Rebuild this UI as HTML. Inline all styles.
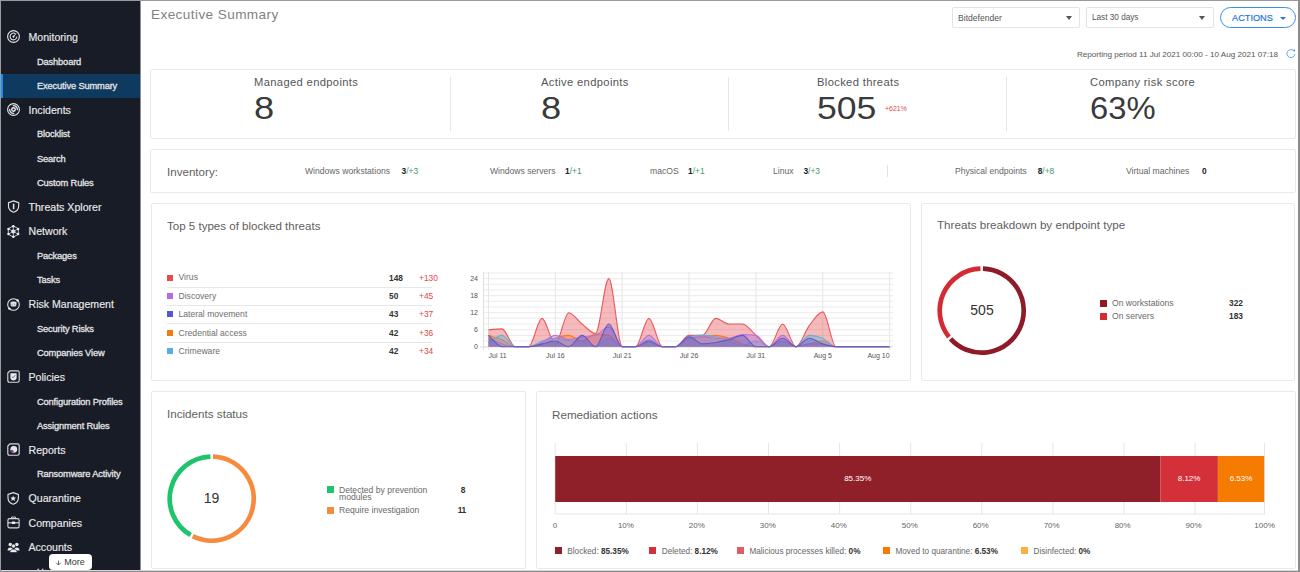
<!DOCTYPE html>
<html><head><meta charset="utf-8"><style>
*{box-sizing:border-box;margin:0;padding:0}
html,body{width:1300px;height:572px;overflow:hidden;background:#fff;font-family:"Liberation Sans", sans-serif}
#frame{position:absolute;left:0;top:0;width:1300px;height:572px;border:1px solid #9a9a9a;border-right:2px solid #8c8c8c;border-bottom:1px solid #8c8c8c;box-shadow:inset 0 -1px 0 #d6d6d6;z-index:50;pointer-events:none}
#sb{position:absolute;left:1px;top:1px;width:139px;height:570px;background:#181c27;overflow:hidden;box-shadow:1px 0 0 #8e9096}
#sb .act{position:absolute;left:0;top:73px;width:139px;height:24px;background:#0f3a5f;border-left:2.5px solid #1a8cf0}
#sb .pi{position:absolute;left:27.5px;font-size:10.6px;line-height:14px;color:#e9e9ea;white-space:nowrap;-webkit-text-stroke:0.15px #e9e9ea}
#sb .si{position:absolute;left:36px;font-size:9.3px;letter-spacing:-0.15px;line-height:12px;font-weight:400;color:#e4e4e6;white-space:nowrap;-webkit-text-stroke:0.3px #e4e4e6}
#sb .ic{position:absolute;left:6px;overflow:visible}
#sb .more{position:absolute;left:48.3px;top:552.5px;width:43px;height:16px;background:#fff;border-radius:4px;font-size:9px;line-height:16px;color:#3a3a3a}
.t{position:absolute;white-space:nowrap}
.card{position:absolute;background:#fff;border:1px solid #e9e9e9;border-radius:2px}
</style></head><body>
<div id="frame"></div>
<div id="sb">
<div class="act"></div>
<div class="pi" style="top:29.0px">Monitoring</div>
<svg class="ic" style="top:29.40px" width="13" height="13" viewBox="0 0 13 13"><circle cx="6.5" cy="6.5" r="5.9" fill="none" stroke="#e2e2e2" stroke-width="1.15"/><path d="M8.6 3.8 A3.4 3.4 0 1 0 9.9 6.6" fill="none" stroke="#e2e2e2" stroke-width="1.05"/><circle cx="6.5" cy="6.6" r="1.05" fill="#eee"/><path d="M6.5 6.6 L9.1 3.6" stroke="#e2e2e2" stroke-width="0.9"/></svg>
<div class="si" style="top:54.5px">Dashboard</div>
<div class="si" style="top:78.8px">Executive Summary</div>
<div class="pi" style="top:101.9px">Incidents</div>
<svg class="ic" style="top:102.26px" width="13" height="13" viewBox="0 0 13 13"><circle cx="6.5" cy="6.5" r="5.9" fill="none" stroke="#e2e2e2" stroke-width="1.15"/><path d="M5.8 2.7 A3.85 3.85 0 0 1 10.3 7.2 M7.2 10.3 A3.85 3.85 0 0 1 2.7 5.8" fill="none" stroke="#e2e2e2" stroke-width="1.3"/><circle cx="6.5" cy="6.5" r="1.75" fill="none" stroke="#f0f0f0" stroke-width="1.4"/></svg>
<div class="si" style="top:127.3px">Blocklist</div>
<div class="si" style="top:151.6px">Search</div>
<div class="si" style="top:175.9px">Custom Rules</div>
<div class="pi" style="top:199.0px">Threats Xplorer</div>
<svg class="ic" style="top:199.40px" width="13" height="13" viewBox="0 0 13 13"><path d="M6.6 0.9 L11.7 2.7 V6.3 C11.7 9.3 9.6 11.3 6.6 12.3 C3.6 11.3 1.5 9.3 1.5 6.3 V2.7 Z" fill="none" stroke="#e2e2e2" stroke-width="1.15"/><path d="M6.6 3.7 V9.3" stroke="#e8e8e8" stroke-width="1.5"/></svg>
<div class="pi" style="top:223.3px">Network</div>
<svg class="ic" style="top:223.69px" width="13" height="13" viewBox="0 0 13 13"><path d="M6.3 0.9 L11.3 3.7 V9.3 L6.3 12.1 L1.3 9.3 V3.7 Z" fill="none" stroke="#cfd2d8" stroke-width="0.9"/><path d="M6.3 1 V12 M1.3 3.7 L11.3 9.3 M11.3 3.7 L1.3 9.3" stroke="#cfd2d8" stroke-width="0.8"/><circle cx="6.3" cy="6.5" r="2.1" fill="#dfe2e8"/><circle cx="6.3" cy="1.3" r="1.25" fill="#eee"/><circle cx="6.3" cy="11.7" r="1.25" fill="#eee"/><circle cx="1.5" cy="3.9" r="1.25" fill="#eee"/><circle cx="11.1" cy="3.9" r="1.25" fill="#eee"/><circle cx="1.5" cy="9.1" r="1.25" fill="#eee"/><circle cx="11.1" cy="9.1" r="1.25" fill="#eee"/></svg>
<div class="si" style="top:248.8px">Packages</div>
<div class="si" style="top:273.1px">Tasks</div>
<div class="pi" style="top:296.1px">Risk Management</div>
<svg class="ic" style="top:296.55px" width="13" height="13" viewBox="0 0 13 13"><circle cx="6.5" cy="6.5" r="5.8" fill="none" stroke="#e2e2e2" stroke-width="1.1"/><circle cx="10.6" cy="2.4" r="1.2" fill="#f2f2f2"/><circle cx="2.4" cy="10.6" r="1.2" fill="#f2f2f2"/><path d="M3.4 4.4 C4.5 3.2 8.5 3.2 9.6 4.4 L9.3 7.4 C8.9 9 4.1 9 3.7 7.4 Z" fill="#e6e6ea"/><path d="M5.2 5.6 V7.3 M7.8 5.6 V7.3" stroke="#7f7fb0" stroke-width="0.9"/></svg>
<div class="si" style="top:321.6px">Security Risks</div>
<div class="si" style="top:345.9px">Companies View</div>
<div class="pi" style="top:369.0px">Policies</div>
<svg class="ic" style="top:369.40px" width="13" height="13" viewBox="0 0 13 13"><path d="M3 0.8 H10.6 Q12.2 0.8 12.2 2.4 V10.6 Q12.2 12.2 10.6 12.2 H2.4 Q0.8 12.2 0.8 10.6 V3 Z" fill="none" stroke="#d8d8d8" stroke-width="1.15"/><path d="M3.4 3.2 H9.6 V8 C9.6 9.3 7.8 10.3 6.5 10.6 C5.2 10.3 3.4 9.3 3.4 8 Z" fill="#e8ecf2"/><path d="M4.9 6.7 L6.1 7.8 L8.3 5.2" fill="none" stroke="#6b6356" stroke-width="0.9"/></svg>
<div class="si" style="top:394.5px">Configuration Profiles</div>
<div class="si" style="top:418.8px">Assignment Rules</div>
<div class="pi" style="top:441.9px">Reports</div>
<svg class="ic" style="top:442.26px" width="13" height="13" viewBox="0 0 13 13"><path d="M3 0.8 H10.6 Q12.2 0.8 12.2 2.4 V10.6 Q12.2 12.2 10.6 12.2 H2.4 Q0.8 12.2 0.8 10.6 V3 Z" fill="none" stroke="#d8d8d8" stroke-width="1.15"/><circle cx="6.8" cy="6.3" r="3.4" fill="#e6e6ea"/><circle cx="5" cy="8.3" r="1.5" fill="#5a4f8a"/><path d="M5.6 7 V9.6" stroke="#b04fb0" stroke-width="0.8"/></svg>
<div class="si" style="top:467.3px">Ransomware Activity</div>
<div class="pi" style="top:490.4px">Quarantine</div>
<svg class="ic" style="top:490.83px" width="13" height="13" viewBox="0 0 13 13"><path d="M6.2 0.6 L11.4 2.5 V6.1 C11.4 9.2 9.2 11.3 6.2 12.3 C3.2 11.3 1 9.2 1 6.1 V2.5 Z" fill="none" stroke="#e2e2e2" stroke-width="1.15"/><path d="M6.2 3.5 L7 5.5 L9.1 5.6 L7.5 6.9 L8.1 9 L6.2 7.8 L4.3 9 L4.9 6.9 L3.3 5.6 L5.4 5.5 Z" fill="#eaeaea"/></svg>
<div class="pi" style="top:514.7px">Companies</div>
<svg class="ic" style="top:515.12px" width="13" height="13" viewBox="0 0 13 13"><rect x="0.9" y="2.6" width="11.2" height="9.3" rx="1.6" fill="none" stroke="#d9d9d9" stroke-width="1.15"/><path d="M4.5 2.6 V1.1 H8.5 V2.6" fill="none" stroke="#d0d0d8" stroke-width="1"/><path d="M0.9 6.8 H12.1" stroke="#e0e0e0" stroke-width="1.1"/><rect x="4.8" y="5.6" width="3.4" height="2.3" rx="0.4" fill="#f0f0f0"/></svg>
<div class="pi" style="top:539.0px">Accounts</div>
<svg class="ic" style="top:539.41px" width="13" height="13" viewBox="0 0 13 13"><g transform="translate(0,0.9)"><circle cx="3.3" cy="3.6" r="1.8" fill="#e8e8ea"/><circle cx="9.8" cy="3.6" r="1.8" fill="#e8e8ea"/><path d="M0.5 9.5 C0.5 5.6 6.1 5.6 6.1 9.5 Z M7 9.5 C7 5.6 12.6 5.6 12.6 9.5 Z" fill="#e8e8ea"/><circle cx="6.5" cy="5.2" r="2" fill="#ececee" stroke="#181c27" stroke-width="0.6"/><path d="M2.8 11.6 C2.8 7.2 10.2 7.2 10.2 11.6 Z" fill="#ececee" stroke="#181c27" stroke-width="0.6"/></g></svg>
<div class="si" style="top:564.5px">User Activity</div>
<div class="more"><svg style="position:absolute;left:6px;top:4.5px" width="7" height="8" viewBox="0 0 7 8"><path d="M3.5 2.6 V7 M1.2 4.7 L3.5 7 L5.8 4.7" fill="none" stroke="#555" stroke-width="0.9"/></svg><span style="position:absolute;left:15px;top:0">More</span></div>
</div>
<div class="t" style="left:151px;top:6.8px;font-size:13.6px;line-height:16.3px;color:#828282;font-weight:400;letter-spacing:0.4px">Executive Summary</div>
<div class="card" style="left:952px;top:7px;width:128px;height:21px;border-color:#e3e3e3"></div>
<div class="t" style="left:958px;top:13.1px;font-size:8.6px;line-height:10.3px;color:#555;font-weight:400;">Bitdefender</div>
<div class="t" style="left:1066px;top:16px;width:0;height:0;border-left:3.5px solid transparent;border-right:3.5px solid transparent;border-top:4px solid #555"></div>
<div class="card" style="left:1086px;top:7px;width:128px;height:21px;border-color:#e3e3e3"></div>
<div class="t" style="left:1092px;top:13.4px;font-size:8.2px;line-height:9.8px;color:#555;font-weight:400;">Last 30 days</div>
<div class="t" style="left:1199px;top:16px;width:0;height:0;border-left:3.5px solid transparent;border-right:3.5px solid transparent;border-top:4px solid #555"></div>
<div class="t" style="left:1220px;top:7px;width:76px;height:21px;border:1px solid #3a8ee6;border-radius:11px"></div>
<div class="t" style="left:1232px;top:12.8px;font-size:9.2px;line-height:11.0px;color:#2a78d8;font-weight:400;-webkit-text-stroke:0.2px #2a78d8">ACTIONS</div>
<div class="t" style="left:1280px;top:16.5px;width:0;height:0;border-left:3.5px solid transparent;border-right:3.5px solid transparent;border-top:3.5px solid #2a78d8"></div>
<div class="t" style="left:1077px;top:50.1px;font-size:8.1px;line-height:9.7px;color:#555;font-weight:400;">Reporting period 11 Jul 2021 00:00 - 10 Aug 2021 07:18</div>
<svg class="t" style="left:1285px;top:48px" width="12" height="12" viewBox="0 0 12 12"><path d="M8.6 2.6 A4 4 0 1 0 9.9 6.2" fill="none" stroke="#5b9cec" stroke-width="0.9"/><circle cx="9.2" cy="2.4" r="0.9" fill="#3f86e6"/></svg>
<div class="card" style="left:150px;top:69px;width:1146px;height:70px"></div>
<div class="t" style="left:450px;top:77px;width:1px;height:54px;background:#e6e6e6"></div>
<div class="t" style="left:728px;top:77px;width:1px;height:54px;background:#e6e6e6"></div>
<div class="t" style="left:1006px;top:77px;width:1px;height:54px;background:#e6e6e6"></div>
<div class="t" style="left:254px;top:76.1px;font-size:11.2px;line-height:13.4px;color:#555;font-weight:400;letter-spacing:0.35px">Managed endpoints</div>
<div class="t" style="left:254px;top:90.1px;font-size:31.5px;line-height:37.8px;color:#3a3a3a;font-weight:400;transform:scaleX(1.15);transform-origin:0 0">8</div>
<div class="t" style="left:541px;top:76.1px;font-size:11.2px;line-height:13.4px;color:#555;font-weight:400;letter-spacing:0.35px">Active endpoints</div>
<div class="t" style="left:541px;top:90.1px;font-size:31.5px;line-height:37.8px;color:#3a3a3a;font-weight:400;transform:scaleX(1.15);transform-origin:0 0">8</div>
<div class="t" style="left:817px;top:76.1px;font-size:11.2px;line-height:13.4px;color:#555;font-weight:400;letter-spacing:0.35px">Blocked threats</div>
<div class="t" style="left:817px;top:90.1px;font-size:31.5px;line-height:37.8px;color:#3a3a3a;font-weight:400;transform:scaleX(1.13);transform-origin:0 0">505</div>
<div class="t" style="left:1090px;top:76.1px;font-size:11.2px;line-height:13.4px;color:#555;font-weight:400;letter-spacing:0.35px">Company risk score</div>
<div class="t" style="left:1090px;top:90.1px;font-size:31.5px;line-height:37.8px;color:#3a3a3a;font-weight:400;transform:scaleX(1.04);transform-origin:0 0">63%</div>
<div class="t" style="left:885px;top:104.6px;font-size:7px;line-height:8.4px;color:#e04b4b;font-weight:400;">+621%</div>
<div class="card" style="left:150px;top:149px;width:1146px;height:44px"></div>
<div class="t" style="left:167px;top:164.8px;font-size:11.6px;line-height:13.9px;color:#606060;font-weight:400;">Inventory:</div>
<div class="t" style="left:305px;top:166px;font-size:8.6px;line-height:11px;color:#666">Windows workstations</div>
<div class="t" style="left:401.5px;top:166px;font-size:8.4px;line-height:11px;color:#222;font-weight:700">3<span style="color:#3d9a6a;font-weight:400">/+3</span></div>
<div class="t" style="left:490px;top:166px;font-size:8.6px;line-height:11px;color:#666">Windows servers</div>
<div class="t" style="left:565px;top:166px;font-size:8.4px;line-height:11px;color:#222;font-weight:700">1<span style="color:#3d9a6a;font-weight:400">/+1</span></div>
<div class="t" style="left:650px;top:166px;font-size:8.6px;line-height:11px;color:#666">macOS</div>
<div class="t" style="left:688px;top:166px;font-size:8.4px;line-height:11px;color:#222;font-weight:700">1<span style="color:#3d9a6a;font-weight:400">/+1</span></div>
<div class="t" style="left:773px;top:166px;font-size:8.6px;line-height:11px;color:#666">Linux</div>
<div class="t" style="left:803.4px;top:166px;font-size:8.4px;line-height:11px;color:#222;font-weight:700">3<span style="color:#3d9a6a;font-weight:400">/+3</span></div>
<div class="t" style="left:955px;top:166px;font-size:8.6px;line-height:11px;color:#666">Physical endpoints</div>
<div class="t" style="left:1037.7px;top:166px;font-size:8.4px;line-height:11px;color:#222;font-weight:700">8<span style="color:#3d9a6a;font-weight:400">/+8</span></div>
<div class="t" style="left:1126px;top:166px;font-size:8.6px;line-height:11px;color:#666">Virtual machines</div>
<div class="t" style="left:1202px;top:166px;font-size:8.4px;line-height:11px;color:#222;font-weight:700">0<span style="color:#3d9a6a;font-weight:400"></span></div>
<div class="t" style="left:887px;top:165px;width:1px;height:12px;background:#e2e2e2"></div>
<div class="card" style="left:151px;top:203px;width:760px;height:178px"></div>
<div class="t" style="left:167px;top:220.4px;font-size:11.55px;line-height:13.9px;color:#606060;font-weight:400;">Top 5 types of blocked threats</div>
<div class="t" style="left:167px;top:274.6px;width:6px;height:6px;background:#e84a4f"></div>
<div class="t" style="left:178.5px;top:272.4px;font-size:8.6px;line-height:10.3px;color:#6e6e6e;font-weight:400;">Virus</div>
<div class="t" style="left:389px;top:272.6px;font-size:8.4px;line-height:10.1px;color:#333;font-weight:700;">148</div>
<div class="t" style="left:419px;top:272.6px;font-size:8.4px;line-height:10.1px;color:#e5484d;font-weight:400;">+130</div>
<div class="t" style="left:167px;top:286.6px;width:265px;height:1px;background:#e8e8e8"></div>
<div class="t" style="left:167px;top:293.0px;width:6px;height:6px;background:#b56ae0"></div>
<div class="t" style="left:178.5px;top:290.8px;font-size:8.6px;line-height:10.3px;color:#6e6e6e;font-weight:400;">Discovery</div>
<div class="t" style="left:389px;top:290.9px;font-size:8.4px;line-height:10.1px;color:#333;font-weight:700;">50</div>
<div class="t" style="left:419px;top:290.9px;font-size:8.4px;line-height:10.1px;color:#e5484d;font-weight:400;">+45</div>
<div class="t" style="left:167px;top:305.0px;width:265px;height:1px;background:#e8e8e8"></div>
<div class="t" style="left:167px;top:311.3px;width:6px;height:6px;background:#5458c4"></div>
<div class="t" style="left:178.5px;top:309.1px;font-size:8.6px;line-height:10.3px;color:#6e6e6e;font-weight:400;">Lateral movement</div>
<div class="t" style="left:389px;top:309.3px;font-size:8.4px;line-height:10.1px;color:#333;font-weight:700;">43</div>
<div class="t" style="left:419px;top:309.3px;font-size:8.4px;line-height:10.1px;color:#e5484d;font-weight:400;">+37</div>
<div class="t" style="left:167px;top:323.3px;width:265px;height:1px;background:#e8e8e8"></div>
<div class="t" style="left:167px;top:329.7px;width:6px;height:6px;background:#f27b12"></div>
<div class="t" style="left:178.5px;top:327.5px;font-size:8.6px;line-height:10.3px;color:#6e6e6e;font-weight:400;">Credential access</div>
<div class="t" style="left:389px;top:327.6px;font-size:8.4px;line-height:10.1px;color:#333;font-weight:700;">42</div>
<div class="t" style="left:419px;top:327.6px;font-size:8.4px;line-height:10.1px;color:#e5484d;font-weight:400;">+36</div>
<div class="t" style="left:167px;top:341.7px;width:265px;height:1px;background:#e8e8e8"></div>
<div class="t" style="left:167px;top:348.0px;width:6px;height:6px;background:#56b0df"></div>
<div class="t" style="left:178.5px;top:345.8px;font-size:8.6px;line-height:10.3px;color:#6e6e6e;font-weight:400;">Crimeware</div>
<div class="t" style="left:389px;top:346.0px;font-size:8.4px;line-height:10.1px;color:#333;font-weight:700;">42</div>
<div class="t" style="left:419px;top:346.0px;font-size:8.4px;line-height:10.1px;color:#e5484d;font-weight:400;">+34</div>
<svg class="t" style="left:0;top:0" width="1300" height="572">
<line x1="484" y1="346.7" x2="893" y2="346.7" stroke="#ebebeb" stroke-width="1"/>
<line x1="484" y1="341.0" x2="893" y2="341.0" stroke="#ebebeb" stroke-width="1"/>
<line x1="484" y1="335.4" x2="893" y2="335.4" stroke="#ebebeb" stroke-width="1"/>
<line x1="484" y1="329.7" x2="893" y2="329.7" stroke="#ebebeb" stroke-width="1"/>
<line x1="484" y1="324.0" x2="893" y2="324.0" stroke="#ebebeb" stroke-width="1"/>
<line x1="484" y1="318.3" x2="893" y2="318.3" stroke="#ebebeb" stroke-width="1"/>
<line x1="484" y1="312.7" x2="893" y2="312.7" stroke="#ebebeb" stroke-width="1"/>
<line x1="484" y1="307.0" x2="893" y2="307.0" stroke="#ebebeb" stroke-width="1"/>
<line x1="484" y1="301.3" x2="893" y2="301.3" stroke="#ebebeb" stroke-width="1"/>
<line x1="484" y1="295.7" x2="893" y2="295.7" stroke="#ebebeb" stroke-width="1"/>
<line x1="484" y1="290.0" x2="893" y2="290.0" stroke="#ebebeb" stroke-width="1"/>
<line x1="484" y1="284.3" x2="893" y2="284.3" stroke="#ebebeb" stroke-width="1"/>
<line x1="484" y1="278.7" x2="893" y2="278.7" stroke="#ebebeb" stroke-width="1"/>
<line x1="484" y1="273.0" x2="893" y2="273.0" stroke="#ebebeb" stroke-width="1"/>
<line x1="488.5" y1="272" x2="488.5" y2="350" stroke="#e6e6e6" stroke-width="1"/>
<line x1="555.4" y1="272" x2="555.4" y2="350" stroke="#e6e6e6" stroke-width="1"/>
<line x1="622.2" y1="272" x2="622.2" y2="350" stroke="#e6e6e6" stroke-width="1"/>
<line x1="689.0" y1="272" x2="689.0" y2="350" stroke="#e6e6e6" stroke-width="1"/>
<line x1="755.9" y1="272" x2="755.9" y2="350" stroke="#e6e6e6" stroke-width="1"/>
<line x1="822.8" y1="272" x2="822.8" y2="350" stroke="#e6e6e6" stroke-width="1"/>
<line x1="889.6" y1="272" x2="889.6" y2="350" stroke="#e6e6e6" stroke-width="1"/>
<line x1="483.5" y1="272" x2="483.5" y2="350" stroke="#e0e0e0" stroke-width="1"/>
<line x1="480" y1="347" x2="893" y2="347" stroke="#e0e0e0" stroke-width="1"/>
<path d="M488.50,329.69 C492.96,329.41 497.41,328.84 501.87,328.84 C506.33,328.84 510.78,346.70 515.24,346.70 C519.70,346.70 524.15,346.70 528.61,346.70 C533.07,346.70 537.52,318.35 541.98,318.35 C546.44,318.35 550.89,343.87 555.35,343.87 C559.81,343.87 564.26,312.68 568.72,312.68 C573.18,312.68 577.63,320.57 582.09,324.02 C586.55,327.47 591.00,333.38 595.46,333.38 C599.92,333.38 604.37,278.66 608.83,278.66 C613.29,278.66 617.74,346.70 622.20,346.70 C626.66,346.70 631.11,346.70 635.57,346.70 C640.03,346.70 644.48,318.35 648.94,318.35 C653.40,318.35 657.85,346.70 662.31,346.70 C666.77,346.70 671.22,346.70 675.68,346.70 C680.14,346.70 684.59,335.36 689.05,335.36 C693.51,335.36 697.96,335.36 702.42,335.36 C706.88,335.36 711.33,318.35 715.79,318.35 C720.25,318.35 724.70,324.02 729.16,324.02 C733.62,324.02 738.07,324.02 742.53,324.02 C746.99,324.02 751.44,331.58 755.90,335.36 C760.36,339.14 764.81,346.70 769.27,346.70 C773.73,346.70 778.18,324.02 782.64,324.02 C787.10,324.02 791.55,346.70 796.01,346.70 C800.47,346.70 804.92,331.25 809.38,325.44 C813.84,319.63 818.29,311.83 822.75,311.83 C827.21,311.83 831.66,346.70 836.12,346.70 C840.58,346.70 845.03,346.70 849.49,346.70 C853.95,346.70 858.40,346.70 862.86,346.70 C867.32,346.70 871.77,346.70 876.23,346.70 C880.69,346.70 885.14,346.70 889.60,346.70 L889.60,346.7 L488.50,346.7 Z" fill="#e84a4f" fill-opacity="0.38" stroke="none"/>
<path d="M488.50,329.69 C492.96,329.41 497.41,328.84 501.87,328.84 C506.33,328.84 510.78,346.70 515.24,346.70 C519.70,346.70 524.15,346.70 528.61,346.70 C533.07,346.70 537.52,318.35 541.98,318.35 C546.44,318.35 550.89,343.87 555.35,343.87 C559.81,343.87 564.26,312.68 568.72,312.68 C573.18,312.68 577.63,320.57 582.09,324.02 C586.55,327.47 591.00,333.38 595.46,333.38 C599.92,333.38 604.37,278.66 608.83,278.66 C613.29,278.66 617.74,346.70 622.20,346.70 C626.66,346.70 631.11,346.70 635.57,346.70 C640.03,346.70 644.48,318.35 648.94,318.35 C653.40,318.35 657.85,346.70 662.31,346.70 C666.77,346.70 671.22,346.70 675.68,346.70 C680.14,346.70 684.59,335.36 689.05,335.36 C693.51,335.36 697.96,335.36 702.42,335.36 C706.88,335.36 711.33,318.35 715.79,318.35 C720.25,318.35 724.70,324.02 729.16,324.02 C733.62,324.02 738.07,324.02 742.53,324.02 C746.99,324.02 751.44,331.58 755.90,335.36 C760.36,339.14 764.81,346.70 769.27,346.70 C773.73,346.70 778.18,324.02 782.64,324.02 C787.10,324.02 791.55,346.70 796.01,346.70 C800.47,346.70 804.92,331.25 809.38,325.44 C813.84,319.63 818.29,311.83 822.75,311.83 C827.21,311.83 831.66,346.70 836.12,346.70 C840.58,346.70 845.03,346.70 849.49,346.70 C853.95,346.70 858.40,346.70 862.86,346.70 C867.32,346.70 871.77,346.70 876.23,346.70 C880.69,346.70 885.14,346.70 889.60,346.70" fill="none" stroke="#e84a4f" stroke-width="1.1" stroke-opacity="0.9"/>
<path d="M488.50,335.36 C492.96,336.78 497.41,337.72 501.87,339.61 C506.33,341.50 510.78,346.70 515.24,346.70 C519.70,346.70 524.15,346.70 528.61,346.70 C533.07,346.70 537.52,346.23 541.98,345.28 C546.44,344.34 550.89,339.85 555.35,338.19 C559.81,336.54 564.26,335.36 568.72,335.36 C573.18,335.36 577.63,341.03 582.09,341.03 C586.55,341.03 591.00,333.94 595.46,333.94 C599.92,333.94 604.37,334.42 608.83,335.36 C613.29,336.31 617.74,346.70 622.20,346.70 C626.66,346.70 631.11,346.70 635.57,346.70 C640.03,346.70 644.48,342.45 648.94,342.45 C653.40,342.45 657.85,346.70 662.31,346.70 C666.77,346.70 671.22,346.70 675.68,346.70 C680.14,346.70 684.59,339.14 689.05,338.19 C693.51,337.25 697.96,337.25 702.42,336.78 C706.88,336.31 711.33,335.36 715.79,335.36 C720.25,335.36 724.70,336.78 729.16,338.19 C733.62,339.61 738.07,342.45 742.53,343.87 C746.99,345.28 751.44,346.70 755.90,346.70 C760.36,346.70 764.81,346.70 769.27,346.70 C773.73,346.70 778.18,341.03 782.64,341.03 C787.10,341.03 791.55,346.70 796.01,346.70 C800.47,346.70 804.92,344.81 809.38,343.87 C813.84,342.92 818.29,341.03 822.75,341.03 C827.21,341.03 831.66,346.70 836.12,346.70 C840.58,346.70 845.03,346.70 849.49,346.70 C853.95,346.70 858.40,346.70 862.86,346.70 C867.32,346.70 871.77,346.70 876.23,346.70 C880.69,346.70 885.14,346.70 889.60,346.70 L889.60,346.7 L488.50,346.7 Z" fill="#f27b12" fill-opacity="0.38" stroke="none"/>
<path d="M488.50,335.36 C492.96,336.78 497.41,337.72 501.87,339.61 C506.33,341.50 510.78,346.70 515.24,346.70 C519.70,346.70 524.15,346.70 528.61,346.70 C533.07,346.70 537.52,346.23 541.98,345.28 C546.44,344.34 550.89,339.85 555.35,338.19 C559.81,336.54 564.26,335.36 568.72,335.36 C573.18,335.36 577.63,341.03 582.09,341.03 C586.55,341.03 591.00,333.94 595.46,333.94 C599.92,333.94 604.37,334.42 608.83,335.36 C613.29,336.31 617.74,346.70 622.20,346.70 C626.66,346.70 631.11,346.70 635.57,346.70 C640.03,346.70 644.48,342.45 648.94,342.45 C653.40,342.45 657.85,346.70 662.31,346.70 C666.77,346.70 671.22,346.70 675.68,346.70 C680.14,346.70 684.59,339.14 689.05,338.19 C693.51,337.25 697.96,337.25 702.42,336.78 C706.88,336.31 711.33,335.36 715.79,335.36 C720.25,335.36 724.70,336.78 729.16,338.19 C733.62,339.61 738.07,342.45 742.53,343.87 C746.99,345.28 751.44,346.70 755.90,346.70 C760.36,346.70 764.81,346.70 769.27,346.70 C773.73,346.70 778.18,341.03 782.64,341.03 C787.10,341.03 791.55,346.70 796.01,346.70 C800.47,346.70 804.92,344.81 809.38,343.87 C813.84,342.92 818.29,341.03 822.75,341.03 C827.21,341.03 831.66,346.70 836.12,346.70 C840.58,346.70 845.03,346.70 849.49,346.70 C853.95,346.70 858.40,346.70 862.86,346.70 C867.32,346.70 871.77,346.70 876.23,346.70 C880.69,346.70 885.14,346.70 889.60,346.70" fill="none" stroke="#f27b12" stroke-width="1.1" stroke-opacity="0.9"/>
<path d="M488.50,342.45 C492.96,340.08 497.41,335.36 501.87,335.36 C506.33,335.36 510.78,346.70 515.24,346.70 C519.70,346.70 524.15,346.70 528.61,346.70 C533.07,346.70 537.52,342.45 541.98,341.03 C546.44,339.61 550.89,338.19 555.35,338.19 C559.81,338.19 564.26,341.03 568.72,341.03 C573.18,341.03 577.63,341.03 582.09,341.03 C586.55,341.03 591.00,346.70 595.46,346.70 C599.92,346.70 604.37,338.19 608.83,338.19 C613.29,338.19 617.74,346.70 622.20,346.70 C626.66,346.70 631.11,346.70 635.57,346.70 C640.03,346.70 644.48,339.61 648.94,339.61 C653.40,339.61 657.85,346.70 662.31,346.70 C666.77,346.70 671.22,346.70 675.68,346.70 C680.14,346.70 684.59,337.72 689.05,336.78 C693.51,335.83 697.96,335.36 702.42,335.36 C706.88,335.36 711.33,335.83 715.79,336.78 C720.25,337.72 724.70,339.61 729.16,341.03 C733.62,342.45 738.07,345.28 742.53,345.28 C746.99,345.28 751.44,341.03 755.90,341.03 C760.36,341.03 764.81,346.70 769.27,346.70 C773.73,346.70 778.18,341.03 782.64,341.03 C787.10,341.03 791.55,346.70 796.01,346.70 C800.47,346.70 804.92,335.36 809.38,335.36 C813.84,335.36 818.29,336.31 822.75,338.19 C827.21,340.08 831.66,346.70 836.12,346.70 C840.58,346.70 845.03,346.70 849.49,346.70 C853.95,346.70 858.40,346.70 862.86,346.70 C867.32,346.70 871.77,346.70 876.23,346.70 C880.69,346.70 885.14,346.70 889.60,346.70 L889.60,346.7 L488.50,346.7 Z" fill="#56b0df" fill-opacity="0.38" stroke="none"/>
<path d="M488.50,342.45 C492.96,340.08 497.41,335.36 501.87,335.36 C506.33,335.36 510.78,346.70 515.24,346.70 C519.70,346.70 524.15,346.70 528.61,346.70 C533.07,346.70 537.52,342.45 541.98,341.03 C546.44,339.61 550.89,338.19 555.35,338.19 C559.81,338.19 564.26,341.03 568.72,341.03 C573.18,341.03 577.63,341.03 582.09,341.03 C586.55,341.03 591.00,346.70 595.46,346.70 C599.92,346.70 604.37,338.19 608.83,338.19 C613.29,338.19 617.74,346.70 622.20,346.70 C626.66,346.70 631.11,346.70 635.57,346.70 C640.03,346.70 644.48,339.61 648.94,339.61 C653.40,339.61 657.85,346.70 662.31,346.70 C666.77,346.70 671.22,346.70 675.68,346.70 C680.14,346.70 684.59,337.72 689.05,336.78 C693.51,335.83 697.96,335.36 702.42,335.36 C706.88,335.36 711.33,335.83 715.79,336.78 C720.25,337.72 724.70,339.61 729.16,341.03 C733.62,342.45 738.07,345.28 742.53,345.28 C746.99,345.28 751.44,341.03 755.90,341.03 C760.36,341.03 764.81,346.70 769.27,346.70 C773.73,346.70 778.18,341.03 782.64,341.03 C787.10,341.03 791.55,346.70 796.01,346.70 C800.47,346.70 804.92,335.36 809.38,335.36 C813.84,335.36 818.29,336.31 822.75,338.19 C827.21,340.08 831.66,346.70 836.12,346.70 C840.58,346.70 845.03,346.70 849.49,346.70 C853.95,346.70 858.40,346.70 862.86,346.70 C867.32,346.70 871.77,346.70 876.23,346.70 C880.69,346.70 885.14,346.70 889.60,346.70" fill="none" stroke="#56b0df" stroke-width="1.1" stroke-opacity="0.9"/>
<path d="M488.50,338.19 C492.96,340.08 497.41,342.45 501.87,343.87 C506.33,345.28 510.78,346.70 515.24,346.70 C519.70,346.70 524.15,346.70 528.61,346.70 C533.07,346.70 537.52,344.34 541.98,342.45 C546.44,340.56 550.89,335.36 555.35,335.36 C559.81,335.36 564.26,339.61 568.72,339.61 C573.18,339.61 577.63,337.49 582.09,336.78 C586.55,336.07 591.00,336.31 595.46,335.36 C599.92,334.42 604.37,326.86 608.83,326.86 C613.29,326.86 617.74,346.70 622.20,346.70 C626.66,346.70 631.11,346.70 635.57,346.70 C640.03,346.70 644.48,335.36 648.94,335.36 C653.40,335.36 657.85,346.70 662.31,346.70 C666.77,346.70 671.22,346.70 675.68,346.70 C680.14,346.70 684.59,339.14 689.05,338.19 C693.51,337.25 697.96,336.78 702.42,336.78 C706.88,336.78 711.33,338.19 715.79,338.19 C720.25,338.19 724.70,338.19 729.16,338.19 C733.62,338.19 738.07,334.51 742.53,334.51 C746.99,334.51 751.44,334.79 755.90,335.36 C760.36,335.93 764.81,346.70 769.27,346.70 C773.73,346.70 778.18,335.36 782.64,335.36 C787.10,335.36 791.55,346.70 796.01,346.70 C800.47,346.70 804.92,343.87 809.38,343.87 C813.84,343.87 818.29,343.87 822.75,343.87 C827.21,343.87 831.66,346.70 836.12,346.70 C840.58,346.70 845.03,346.70 849.49,346.70 C853.95,346.70 858.40,346.70 862.86,346.70 C867.32,346.70 871.77,346.70 876.23,346.70 C880.69,346.70 885.14,346.70 889.60,346.70 L889.60,346.7 L488.50,346.7 Z" fill="#b56ae0" fill-opacity="0.38" stroke="none"/>
<path d="M488.50,338.19 C492.96,340.08 497.41,342.45 501.87,343.87 C506.33,345.28 510.78,346.70 515.24,346.70 C519.70,346.70 524.15,346.70 528.61,346.70 C533.07,346.70 537.52,344.34 541.98,342.45 C546.44,340.56 550.89,335.36 555.35,335.36 C559.81,335.36 564.26,339.61 568.72,339.61 C573.18,339.61 577.63,337.49 582.09,336.78 C586.55,336.07 591.00,336.31 595.46,335.36 C599.92,334.42 604.37,326.86 608.83,326.86 C613.29,326.86 617.74,346.70 622.20,346.70 C626.66,346.70 631.11,346.70 635.57,346.70 C640.03,346.70 644.48,335.36 648.94,335.36 C653.40,335.36 657.85,346.70 662.31,346.70 C666.77,346.70 671.22,346.70 675.68,346.70 C680.14,346.70 684.59,339.14 689.05,338.19 C693.51,337.25 697.96,336.78 702.42,336.78 C706.88,336.78 711.33,338.19 715.79,338.19 C720.25,338.19 724.70,338.19 729.16,338.19 C733.62,338.19 738.07,334.51 742.53,334.51 C746.99,334.51 751.44,334.79 755.90,335.36 C760.36,335.93 764.81,346.70 769.27,346.70 C773.73,346.70 778.18,335.36 782.64,335.36 C787.10,335.36 791.55,346.70 796.01,346.70 C800.47,346.70 804.92,343.87 809.38,343.87 C813.84,343.87 818.29,343.87 822.75,343.87 C827.21,343.87 831.66,346.70 836.12,346.70 C840.58,346.70 845.03,346.70 849.49,346.70 C853.95,346.70 858.40,346.70 862.86,346.70 C867.32,346.70 871.77,346.70 876.23,346.70 C880.69,346.70 885.14,346.70 889.60,346.70" fill="none" stroke="#b56ae0" stroke-width="1.1" stroke-opacity="0.9"/>
<path d="M488.50,335.36 C492.96,339.14 497.41,346.70 501.87,346.70 C506.33,346.70 510.78,346.70 515.24,346.70 C519.70,346.70 524.15,346.70 528.61,346.70 C533.07,346.70 537.52,344.81 541.98,343.87 C546.44,342.92 550.89,341.03 555.35,341.03 C559.81,341.03 564.26,346.70 568.72,346.70 C573.18,346.70 577.63,335.36 582.09,335.36 C586.55,335.36 591.00,346.70 595.46,346.70 C599.92,346.70 604.37,324.02 608.83,324.02 C613.29,324.02 617.74,346.70 622.20,346.70 C626.66,346.70 631.11,346.70 635.57,346.70 C640.03,346.70 644.48,341.03 648.94,341.03 C653.40,341.03 657.85,346.70 662.31,346.70 C666.77,346.70 671.22,346.70 675.68,346.70 C680.14,346.70 684.59,336.78 689.05,336.78 C693.51,336.78 697.96,343.87 702.42,343.87 C706.88,343.87 711.33,343.16 715.79,342.45 C720.25,341.74 724.70,340.79 729.16,339.61 C733.62,338.43 738.07,335.36 742.53,335.36 C746.99,335.36 751.44,346.70 755.90,346.70 C760.36,346.70 764.81,346.70 769.27,346.70 C773.73,346.70 778.18,338.19 782.64,338.19 C787.10,338.19 791.55,346.70 796.01,346.70 C800.47,346.70 804.92,338.19 809.38,338.19 C813.84,338.19 818.29,342.45 822.75,343.87 C827.21,345.28 831.66,346.70 836.12,346.70 C840.58,346.70 845.03,346.70 849.49,346.70 C853.95,346.70 858.40,346.70 862.86,346.70 C867.32,346.70 871.77,346.70 876.23,346.70 C880.69,346.70 885.14,346.70 889.60,346.70 L889.60,346.7 L488.50,346.7 Z" fill="#5458c4" fill-opacity="0.38" stroke="none"/>
<path d="M488.50,335.36 C492.96,339.14 497.41,346.70 501.87,346.70 C506.33,346.70 510.78,346.70 515.24,346.70 C519.70,346.70 524.15,346.70 528.61,346.70 C533.07,346.70 537.52,344.81 541.98,343.87 C546.44,342.92 550.89,341.03 555.35,341.03 C559.81,341.03 564.26,346.70 568.72,346.70 C573.18,346.70 577.63,335.36 582.09,335.36 C586.55,335.36 591.00,346.70 595.46,346.70 C599.92,346.70 604.37,324.02 608.83,324.02 C613.29,324.02 617.74,346.70 622.20,346.70 C626.66,346.70 631.11,346.70 635.57,346.70 C640.03,346.70 644.48,341.03 648.94,341.03 C653.40,341.03 657.85,346.70 662.31,346.70 C666.77,346.70 671.22,346.70 675.68,346.70 C680.14,346.70 684.59,336.78 689.05,336.78 C693.51,336.78 697.96,343.87 702.42,343.87 C706.88,343.87 711.33,343.16 715.79,342.45 C720.25,341.74 724.70,340.79 729.16,339.61 C733.62,338.43 738.07,335.36 742.53,335.36 C746.99,335.36 751.44,346.70 755.90,346.70 C760.36,346.70 764.81,346.70 769.27,346.70 C773.73,346.70 778.18,338.19 782.64,338.19 C787.10,338.19 791.55,346.70 796.01,346.70 C800.47,346.70 804.92,338.19 809.38,338.19 C813.84,338.19 818.29,342.45 822.75,343.87 C827.21,345.28 831.66,346.70 836.12,346.70 C840.58,346.70 845.03,346.70 849.49,346.70 C853.95,346.70 858.40,346.70 862.86,346.70 C867.32,346.70 871.77,346.70 876.23,346.70 C880.69,346.70 885.14,346.70 889.60,346.70" fill="none" stroke="#5458c4" stroke-width="1.1" stroke-opacity="0.9"/>
</svg>
<div class="t" style="left:454px;width:24px;text-align:right;top:274.2px;font-size:7px;line-height:9px;color:#555">24</div>
<div class="t" style="left:454px;width:24px;text-align:right;top:291.2px;font-size:7px;line-height:9px;color:#555">18</div>
<div class="t" style="left:454px;width:24px;text-align:right;top:308.2px;font-size:7px;line-height:9px;color:#555">12</div>
<div class="t" style="left:454px;width:24px;text-align:right;top:325.2px;font-size:7px;line-height:9px;color:#555">6</div>
<div class="t" style="left:454px;width:24px;text-align:right;top:342.2px;font-size:7px;line-height:9px;color:#555">0</div>
<div class="t" style="left:488.5px;width:60px;text-align:left;top:350.5px;font-size:7px;line-height:9px;color:#555">Jul 11</div>
<div class="t" style="left:525.4px;width:60px;text-align:center;top:350.5px;font-size:7px;line-height:9px;color:#555">Jul 16</div>
<div class="t" style="left:592.2px;width:60px;text-align:center;top:350.5px;font-size:7px;line-height:9px;color:#555">Jul 21</div>
<div class="t" style="left:659.0px;width:60px;text-align:center;top:350.5px;font-size:7px;line-height:9px;color:#555">Jul 26</div>
<div class="t" style="left:725.9px;width:60px;text-align:center;top:350.5px;font-size:7px;line-height:9px;color:#555">Jul 31</div>
<div class="t" style="left:792.8px;width:60px;text-align:center;top:350.5px;font-size:7px;line-height:9px;color:#555">Aug 5</div>
<div class="t" style="left:829.6px;width:60px;text-align:right;top:350.5px;font-size:7px;line-height:9px;color:#555">Aug 10</div>
<div class="card" style="left:921px;top:203px;width:374px;height:178px"></div>
<div class="t" style="left:937px;top:218.3px;font-size:11.65px;line-height:14.0px;color:#606060;font-weight:400;">Threats breakdown by endpoint type</div>
<svg class="t" style="left:935.3px;top:264.0px" width="93.4" height="93.4">
<path d="M47.95,4.72 A42,42 0 1 1 15.56,74.89" fill="none" stroke="#8d1c28" stroke-width="4.7"/>
<path d="M13.95,72.99 A42,42 0 0 1 45.45,4.72" fill="none" stroke="#d42a33" stroke-width="4.7"/>
</svg>
<div class="t" style="left:952px;width:60px;text-align:center;top:302.3px;font-size:14px;line-height:16.8px;color:#333">505</div>
<div class="t" style="left:1100px;top:302.4px;font-size:1px;line-height:1.2px;color:#555;font-weight:400;"></div>
<div class="t" style="left:1100px;top:300px;width:7px;height:7px;background:#8d1c28"></div>
<div class="t" style="left:1100px;top:313px;width:6.5px;height:6.5px;background:#d42b34"></div>
<div class="t" style="left:1112px;top:298.1px;font-size:8.6px;line-height:10.3px;color:#6a6a6a;font-weight:400;">On workstations</div>
<div class="t" style="left:1112px;top:311.1px;font-size:8.6px;line-height:10.3px;color:#6a6a6a;font-weight:400;">On servers</div>
<div class="t" style="left:1229px;top:297.5px;font-size:8.4px;line-height:10.1px;color:#333;font-weight:700;">322</div>
<div class="t" style="left:1229px;top:310.5px;font-size:8.4px;line-height:10.1px;color:#333;font-weight:700;">183</div>
<div class="card" style="left:151px;top:391px;width:375px;height:178px"></div>
<div class="t" style="left:167px;top:406.5px;font-size:11.65px;line-height:14.0px;color:#606060;font-weight:400;">Incidents status</div>
<svg class="t" style="left:164.9px;top:451.5px" width="93.4" height="93.4">
<path d="M47.95,4.72 A42,42 0 1 1 27.81,84.21" fill="none" stroke="#f68b3f" stroke-width="4.7"/>
<path d="M25.62,83.03 A42,42 0 0 1 45.45,4.72" fill="none" stroke="#1ec46b" stroke-width="4.7"/>
</svg>
<div class="t" style="left:181.6px;width:60px;text-align:center;top:489.8px;font-size:14px;line-height:16.8px;color:#333">19</div>
<div class="t" style="left:327px;top:486px;width:7px;height:7px;background:#1ec46b"></div>
<div class="t" style="left:327px;top:506.5px;width:7px;height:7px;background:#f68b3f"></div>
<div class="t" style="left:339px;top:486.5px;font-size:8.6px;line-height:7.2px;color:#6a6a6a">Detected by prevention<br>modules</div>
<div class="t" style="left:339px;top:505.1px;font-size:8.6px;line-height:10.3px;color:#6a6a6a;font-weight:400;">Require investigation</div>
<div class="t" style="left:445px;width:20.5px;text-align:right;top:484.5px;font-size:8.4px;line-height:10px;color:#333;font-weight:700">8</div>
<div class="t" style="left:445px;width:20.5px;text-align:right;top:505px;font-size:8.4px;line-height:10px;color:#333;font-weight:700;letter-spacing:-0.6px">11</div>
<div class="card" style="left:536px;top:391px;width:760px;height:178px"></div>
<div class="t" style="left:552px;top:407.5px;font-size:11.65px;line-height:14.0px;color:#606060;font-weight:400;">Remediation actions</div>
<svg class="t" style="left:0;top:0" width="1300" height="572">
<line x1="555.2" y1="443" x2="555.2" y2="514" stroke="#e6e6e6" stroke-width="1"/>
<line x1="626.3" y1="443" x2="626.3" y2="514" stroke="#e6e6e6" stroke-width="1"/>
<line x1="697.4" y1="443" x2="697.4" y2="514" stroke="#e6e6e6" stroke-width="1"/>
<line x1="768.5" y1="443" x2="768.5" y2="514" stroke="#e6e6e6" stroke-width="1"/>
<line x1="839.6" y1="443" x2="839.6" y2="514" stroke="#e6e6e6" stroke-width="1"/>
<line x1="910.7" y1="443" x2="910.7" y2="514" stroke="#e6e6e6" stroke-width="1"/>
<line x1="981.8" y1="443" x2="981.8" y2="514" stroke="#e6e6e6" stroke-width="1"/>
<line x1="1052.9" y1="443" x2="1052.9" y2="514" stroke="#e6e6e6" stroke-width="1"/>
<line x1="1124.0" y1="443" x2="1124.0" y2="514" stroke="#e6e6e6" stroke-width="1"/>
<line x1="1195.1" y1="443" x2="1195.1" y2="514" stroke="#e6e6e6" stroke-width="1"/>
<line x1="1264.5" y1="443" x2="1264.5" y2="514" stroke="#e6e6e6" stroke-width="1"/>
<line x1="555.2" y1="514" x2="1265" y2="514" stroke="#e6e6e6" stroke-width="1"/>
<rect x="555.20" y="456" width="605.13" height="46" fill="#8f2029"/>
<rect x="1160.33" y="456" width="57.57" height="46" fill="#d3303a"/>
<rect x="1217.90" y="456" width="46.30" height="46" fill="#f57c00"/>
</svg>
<div class="t" style="left:555.2px;width:605.1px;text-align:center;top:473.5px;font-size:8px;line-height:10px;color:#fff">85.35%</div>
<div class="t" style="left:1160.3px;width:57.6px;text-align:center;top:473.5px;font-size:8px;line-height:10px;color:#fff">8.12%</div>
<div class="t" style="left:1217.9px;width:46.3px;text-align:center;top:473.5px;font-size:8px;line-height:10px;color:#fff">6.53%</div>
<div class="t" style="left:534.9px;width:40px;text-align:center;top:520.5px;font-size:8px;line-height:10px;color:#666">0</div>
<div class="t" style="left:605.9px;width:40px;text-align:center;top:520.5px;font-size:8px;line-height:10px;color:#666">10%</div>
<div class="t" style="left:676.8px;width:40px;text-align:center;top:520.5px;font-size:8px;line-height:10px;color:#666">20%</div>
<div class="t" style="left:747.8px;width:40px;text-align:center;top:520.5px;font-size:8px;line-height:10px;color:#666">30%</div>
<div class="t" style="left:818.8px;width:40px;text-align:center;top:520.5px;font-size:8px;line-height:10px;color:#666">40%</div>
<div class="t" style="left:889.8px;width:40px;text-align:center;top:520.5px;font-size:8px;line-height:10px;color:#666">50%</div>
<div class="t" style="left:960.7px;width:40px;text-align:center;top:520.5px;font-size:8px;line-height:10px;color:#666">60%</div>
<div class="t" style="left:1031.7px;width:40px;text-align:center;top:520.5px;font-size:8px;line-height:10px;color:#666">70%</div>
<div class="t" style="left:1102.7px;width:40px;text-align:center;top:520.5px;font-size:8px;line-height:10px;color:#666">80%</div>
<div class="t" style="left:1173.6px;width:40px;text-align:center;top:520.5px;font-size:8px;line-height:10px;color:#666">90%</div>
<div class="t" style="left:1244.6px;width:40px;text-align:center;top:520.5px;font-size:8px;line-height:10px;color:#666">100%</div>
<div class="t" style="left:554.8px;top:546.8px;width:7px;height:7px;background:#8f1f29"></div>
<div class="t" style="left:567.3px;top:547px;font-size:8.2px;line-height:10px;color:#666">Blocked: <b style="color:#333">85.35%</b></div>
<div class="t" style="left:649.3px;top:546.8px;width:7px;height:7px;background:#d3303a"></div>
<div class="t" style="left:661.8px;top:547px;font-size:8.2px;line-height:10px;color:#666">Deleted: <b style="color:#333">8.12%</b></div>
<div class="t" style="left:736.9px;top:546.8px;width:7px;height:7px;background:#e35b62"></div>
<div class="t" style="left:749.4px;top:547px;font-size:8.2px;line-height:10px;color:#666">Malicious processes killed: <b style="color:#333">0%</b></div>
<div class="t" style="left:883px;top:546.8px;width:7px;height:7px;background:#f57c00"></div>
<div class="t" style="left:895.5px;top:547px;font-size:8.2px;line-height:10px;color:#666">Moved to quarantine: <b style="color:#333">6.53%</b></div>
<div class="t" style="left:1021px;top:546.8px;width:7px;height:7px;background:#fbb040"></div>
<div class="t" style="left:1033.5px;top:547px;font-size:8.2px;line-height:10px;color:#666">Disinfected: <b style="color:#333">0%</b></div>
</body></html>
